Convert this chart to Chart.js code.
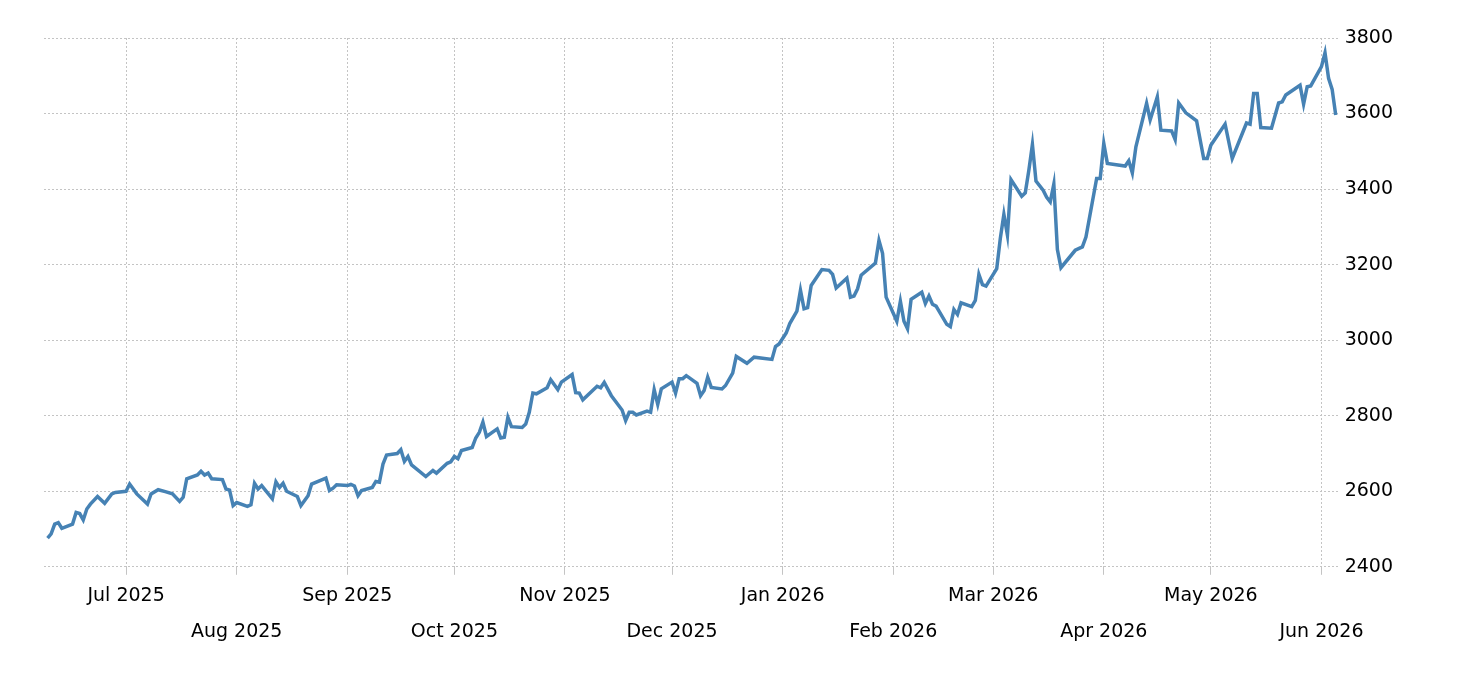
<!DOCTYPE html>
<html>
<head>
<meta charset="utf-8">
<title>Price</title>
<script src="https://cdn.jsdelivr.net/npm/chart.js@4.4.1/dist/chart.umd.min.js"></script>
<style>
  html, body { margin: 0; padding: 0; background: #fff; }
  #chart-wrapper { width: 1460px; height: 680px; position: relative; }
</style>
</head>
<body>
<div id="chart-wrapper"><canvas id="priceChart"></canvas></div>
<script>
const dates = [
    '2025-06-09', '2025-06-10', '2025-06-11', '2025-06-12', '2025-06-13', '2025-06-16', '2025-06-17',
    '2025-06-18', '2025-06-19', '2025-06-20', '2025-06-21', '2025-06-23', '2025-06-25', '2025-06-27',
    '2025-06-28', '2025-07-01', '2025-07-02', '2025-07-04', '2025-07-07', '2025-07-08', '2025-07-10',
    '2025-07-12', '2025-07-14', '2025-07-16', '2025-07-17', '2025-07-18', '2025-07-21', '2025-07-22',
    '2025-07-23', '2025-07-24', '2025-07-25', '2025-07-28', '2025-07-29', '2025-07-30', '2025-07-31',
    '2025-08-01', '2025-08-04', '2025-08-05', '2025-08-06', '2025-08-07', '2025-08-08', '2025-08-11',
    '2025-08-12', '2025-08-13', '2025-08-14', '2025-08-15', '2025-08-18', '2025-08-19', '2025-08-21',
    '2025-08-22', '2025-08-26', '2025-08-27', '2025-08-28', '2025-08-29', '2025-09-01', '2025-09-02',
    '2025-09-03', '2025-09-04', '2025-09-05', '2025-09-08', '2025-09-09', '2025-09-10', '2025-09-11',
    '2025-09-12', '2025-09-15', '2025-09-16', '2025-09-17', '2025-09-18', '2025-09-19', '2025-09-23',
    '2025-09-25', '2025-09-26', '2025-09-29', '2025-09-30', '2025-10-01', '2025-10-02', '2025-10-03',
    '2025-10-06', '2025-10-07', '2025-10-08', '2025-10-09', '2025-10-10', '2025-10-13', '2025-10-14',
    '2025-10-15', '2025-10-16', '2025-10-17', '2025-10-20', '2025-10-21', '2025-10-22', '2025-10-23',
    '2025-10-24', '2025-10-27', '2025-10-28', '2025-10-30', '2025-10-31', '2025-11-03', '2025-11-04',
    '2025-11-05', '2025-11-06', '2025-11-10', '2025-11-11', '2025-11-12', '2025-11-14', '2025-11-17',
    '2025-11-18', '2025-11-19', '2025-11-20', '2025-11-21', '2025-11-24', '2025-11-25', '2025-11-26',
    '2025-11-27', '2025-11-28', '2025-12-01', '2025-12-02', '2025-12-03', '2025-12-04', '2025-12-05',
    '2025-12-08', '2025-12-09', '2025-12-10', '2025-12-11', '2025-12-12', '2025-12-15', '2025-12-16',
    '2025-12-18', '2025-12-19', '2025-12-22', '2025-12-24', '2025-12-29', '2025-12-30', '2025-12-31',
    '2026-01-02', '2026-01-03', '2026-01-05', '2026-01-06', '2026-01-07', '2026-01-08', '2026-01-09',
    '2026-01-12', '2026-01-14', '2026-01-15', '2026-01-16', '2026-01-19', '2026-01-20', '2026-01-21',
    '2026-01-22', '2026-01-23', '2026-01-27', '2026-01-28', '2026-01-29', '2026-01-30', '2026-02-02',
    '2026-02-03', '2026-02-04', '2026-02-05', '2026-02-06', '2026-02-09', '2026-02-10', '2026-02-11',
    '2026-02-12', '2026-02-13', '2026-02-16', '2026-02-17', '2026-02-18', '2026-02-19', '2026-02-20',
    '2026-02-23', '2026-02-24', '2026-02-25', '2026-02-26', '2026-02-27', '2026-03-02', '2026-03-03',
    '2026-03-04', '2026-03-05', '2026-03-06', '2026-03-09', '2026-03-10', '2026-03-11', '2026-03-12',
    '2026-03-13', '2026-03-15', '2026-03-16', '2026-03-17', '2026-03-18', '2026-03-19', '2026-03-20',
    '2026-03-24', '2026-03-26', '2026-03-27', '2026-03-30', '2026-03-31', '2026-04-01', '2026-04-02',
    '2026-04-07', '2026-04-08', '2026-04-09', '2026-04-10', '2026-04-13', '2026-04-14', '2026-04-16',
    '2026-04-17', '2026-04-20', '2026-04-21', '2026-04-22', '2026-04-24', '2026-04-27', '2026-04-29',
    '2026-04-30', '2026-05-01', '2026-05-05', '2026-05-07', '2026-05-11', '2026-05-12', '2026-05-13',
    '2026-05-14', '2026-05-15', '2026-05-18', '2026-05-20', '2026-05-21', '2026-05-22', '2026-05-26',
    '2026-05-27', '2026-05-28', '2026-05-29', '2026-06-01', '2026-06-02', '2026-06-03', '2026-06-04',
    '2026-06-05'
];

const prices = [
    2476, 2487, 2513, 2517, 2502, 2513, 2544,
    2541, 2524, 2553, 2566, 2586, 2568, 2593,
    2597, 2600, 2619, 2593, 2566, 2593, 2604,
    2599, 2593, 2573, 2584, 2633, 2643, 2653,
    2643, 2648, 2633, 2631, 2606, 2603, 2562,
    2570, 2560, 2564, 2621, 2606, 2615, 2580,
    2625, 2610, 2621, 2600, 2586, 2562, 2588,
    2619, 2635, 2602, 2608, 2617, 2615, 2618,
    2614, 2588, 2602, 2610, 2626, 2624, 2672,
    2696, 2700, 2710, 2679, 2692, 2670, 2639,
    2655, 2648, 2674, 2678, 2692, 2686, 2708,
    2716, 2741, 2756, 2783, 2745, 2765, 2741,
    2743, 2796, 2771, 2769, 2778, 2809, 2860,
    2858, 2874, 2895, 2869, 2889, 2909, 2861,
    2860, 2842, 2878, 2874, 2888, 2853, 2815,
    2787, 2809, 2809, 2802, 2812, 2809, 2869,
    2830, 2871, 2889, 2860, 2898, 2898, 2906,
    2886, 2853, 2867, 2902, 2875, 2871, 2880,
    2913, 2957, 2939, 2955, 2949, 2983, 2990,
    3019, 3044, 3077, 3132, 3083, 3086, 3145,
    3187, 3185, 3174, 3138, 3164, 3114, 3117,
    3136, 3172, 3204, 3264, 3230, 3114, 3050,
    3103, 3050, 3030, 3108, 3127, 3097, 3117,
    3095, 3090, 3042, 3036, 3081, 3068, 3099,
    3089, 3105, 3174, 3147, 3143, 3189, 3269,
    3333, 3278, 3425, 3381, 3390, 3450, 3518,
    3421, 3397, 3378, 3366, 3413, 3240, 3192,
    3238, 3247, 3273, 3428, 3428, 3521, 3468,
    3461, 3475, 3443, 3512, 3627, 3583, 3644,
    3556, 3554, 3531, 3628, 3602, 3581, 3481,
    3481, 3516, 3572, 3481, 3575, 3572, 3653,
    3653, 3563, 3561, 3628, 3631, 3649, 3675,
    3625, 3671, 3673, 3724, 3761, 3693, 3664,
    3596
];

// axis ticks
const monthTicks = [
    '2025-07-01', '2025-08-01', '2025-09-01', '2025-10-01', '2025-11-01', '2025-12-01',
    '2026-01-01', '2026-02-01', '2026-03-01', '2026-04-01', '2026-05-01', '2026-06-01'
];
const monthNames = ['Jan', 'Feb', 'Mar', 'Apr', 'May', 'Jun', 'Jul', 'Aug', 'Sep', 'Oct', 'Nov', 'Dec'];
const xStart = '2025-06-08';
const xEnd = '2026-06-05';
const yMin = 2400;
const yMax = 3800;
const yStep = 200;

const DAY = 86400000;
const base = Date.parse('2025-06-01');
const toDay = s => (Date.parse(s) - base) / DAY;
const tickDays = monthTicks.map(toDay);

const points = dates.map((d, i) => ({ x: toDay(d), y: prices[i] }));

const gridColor = '#c4c4c4';
const fontSpec = { family: 'DejaVu Sans', size: 19 };

new Chart(document.getElementById('priceChart').getContext('2d'), {
    type: 'line',
    data: {
        datasets: [{
            data: points,
            borderColor: '#4682b4',
            borderWidth: 3.5,
            pointRadius: 0,
            tension: 0,
            fill: false
        }]
    },
    options: {
        responsive: true,
        maintainAspectRatio: false,
        animation: false,
        layout: {
            padding: { left: 44, right: 62, top: 38, bottom: 27 }
        },
        plugins: {
            legend: { display: false },
            tooltip: { enabled: false }
        },
        scales: {
            x: {
                type: 'linear',
                min: toDay(xStart),
                max: toDay(xEnd) + 1.1,
                afterBuildTicks: function (scale) {
                    scale.ticks = tickDays.map(v => ({ value: v }));
                },
                border: { display: false, dash: [2, 2] },
                grid: {
                    color: gridColor,
                    tickLength: 8,
                    tickColor: gridColor,
                    tickBorderDash: [],
                    lineWidth: 1
                },
                ticks: {
                    autoSkip: false,
                    maxRotation: 0,
                    padding: 3,
                    color: '#000',
                    font: { family: 'DejaVu Sans', size: 19, lineHeight: 1.9 },
                    callback: function (value) {
                        const i = tickDays.indexOf(value);
                        if (i < 0) return '';
                        const d = new Date(base + value * DAY);
                        const label = monthNames[d.getUTCMonth()] + ' ' + d.getUTCFullYear();
                        return i % 2 === 0 ? [label, ''] : ['', label];
                    }
                }
            },
            y: {
                position: 'right',
                min: yMin,
                max: yMax,
                border: { display: false, dash: [2, 2] },
                grid: {
                    color: gridColor,
                    drawTicks: false,
                    lineWidth: 1
                },
                ticks: {
                    stepSize: yStep,
                    padding: 5,
                    color: '#000',
                    font: fontSpec,
                    callback: value => String(value)
                }
            }
        }
    }
});
</script>
</body>
</html>
